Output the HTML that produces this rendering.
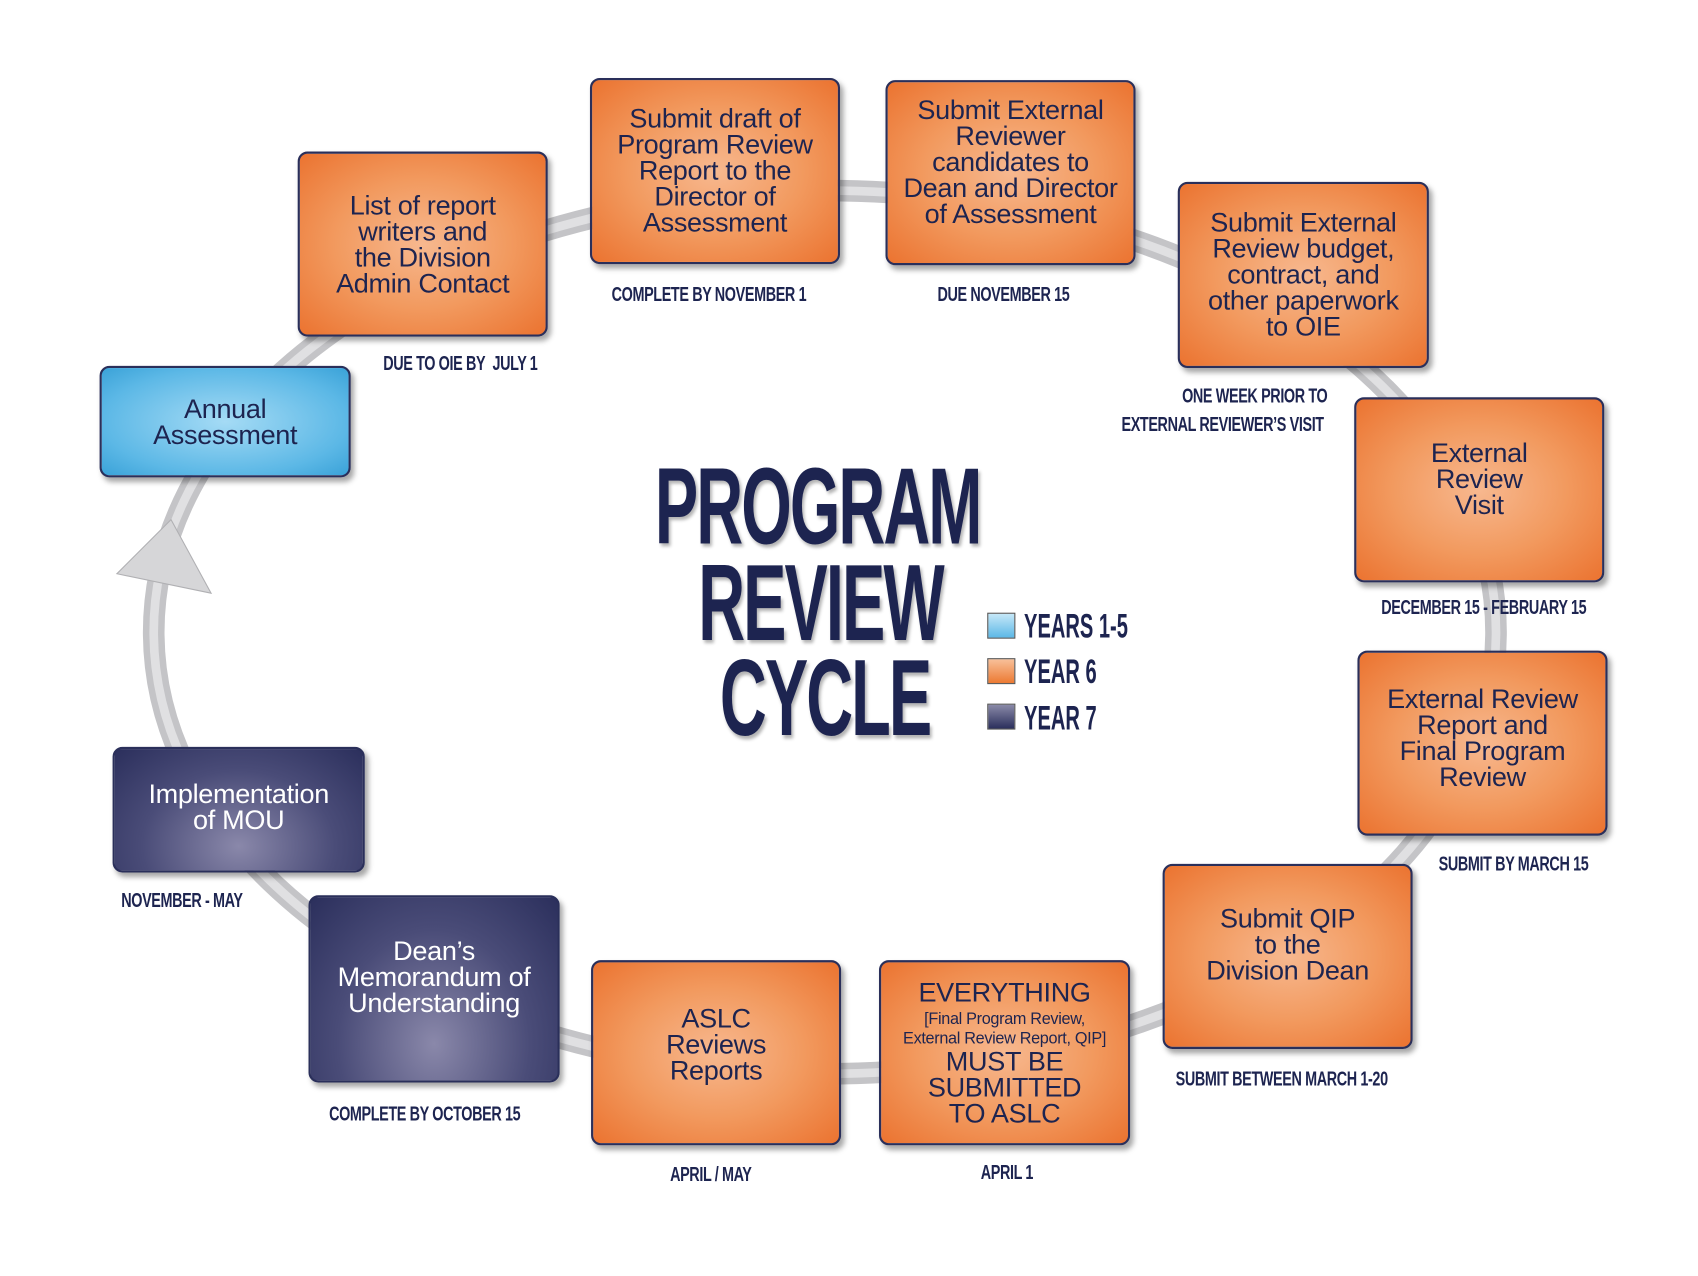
<!DOCTYPE html>
<html><head><style>
body{margin:0;background:#fff;width:1698px;height:1276px;overflow:hidden}
#w{position:absolute;left:0;top:0;width:1556px;height:1169px;transform:scale(1.0825);transform-origin:0 0;font-family:"Liberation Sans",sans-serif}
.b{position:absolute;border:2px solid #2a2f5a;border-radius:9px;box-shadow:3px 4px 5px rgba(0,0,0,.35);display:flex;align-items:center;justify-content:center;text-align:center;font-size:25px;line-height:24px;box-sizing:border-box;letter-spacing:-0.3px}
.o{background:radial-gradient(ellipse at 50% 50%,#f7b88f 0%,#f29a5f 50%,#eb7330 100%);color:#1d2450}
.n{background:radial-gradient(ellipse at 50% 80%,#8a88aa 0%,#4a4c78 55%,#2b2f5c 100%);color:#fff}
.l{background:radial-gradient(ellipse at 50% 50%,#a5dbf5 0%,#5cb8e6 70%,#3aa2d8 100%);color:#1d2450}
.t{position:absolute;font-family:"Liberation Sans Narrow","Liberation Sans",sans-serif;font-weight:bold;color:#1d2450;font-size:19px;white-space:nowrap;transform:scaleX(.7);transform-origin:0 0;letter-spacing:-0.5px}
.ti{position:absolute;font-family:"Liberation Sans Narrow","Liberation Sans",sans-serif;font-weight:bold;color:#1d2450;font-size:100px;line-height:90px;text-shadow:3px 3px 4px rgba(0,0,0,.3);white-space:nowrap;letter-spacing:-3px;transform:scaleX(.6);transform-origin:0 0}
.sw{position:absolute;width:24px;height:22px;border:1px solid #555;left:912px}
.lg{position:absolute;font-family:"Liberation Sans Narrow","Liberation Sans",sans-serif;font-weight:bold;color:#1d2450;font-size:32px;white-space:nowrap;transform:scaleX(.58);transform-origin:0 0;left:946px}
</style></head><body><div id="w">
<svg width="1556" height="1169" style="position:absolute;left:0;top:0">
<ellipse cx="762" cy="584" rx="620" ry="408" fill="none" stroke="#c4c4c7" stroke-width="20"/>
<ellipse cx="762" cy="584" rx="620" ry="408" fill="none" stroke="#e0e0e2" stroke-width="8"/>
<polygon points="158,480 108,530 195,548" fill="#d6d6d8" stroke="#b0b0b3" stroke-width="1"/>
</svg>
<div class="b o" style="left:275px;top:140px;width:231px;height:171px">List of report<br>writers and<br>the Division<br>Admin Contact</div>
<div class="b o" style="left:545px;top:72px;width:231px;height:172px">Submit draft of<br>Program Review<br>Report to the<br>Director of<br>Assessment</div>
<div class="b o" style="left:818px;top:74px;width:231px;height:171px;padding-bottom:20px">Submit External<br>Reviewer<br>candidates to<br>Dean and Director<br>of Assessment</div>
<div class="b o" style="left:1088px;top:168px;width:232px;height:172px">Submit External<br>Review budget,<br>contract, and<br>other paperwork<br>to OIE</div>
<div class="b o" style="left:1251px;top:367px;width:231px;height:171px;padding-bottom:20px">External<br>Review<br>Visit</div>
<div class="b o" style="left:1254px;top:601px;width:231px;height:171px;padding-bottom:10px">External Review<br>Report and<br>Final Program<br>Review</div>
<div class="b o" style="left:1074px;top:798px;width:231px;height:171px;padding-bottom:22px">Submit QIP<br>to the<br>Division Dean</div>
<div class="b o" style="left:812px;top:887px;width:232px;height:171px;flex-direction:column">EVERYTHING<span style="font-size:15px;line-height:18px;margin-top:4px">[Final Program Review,<br>External Review Report, QIP]</span>MUST BE<br>SUBMITTED<br>TO ASLC</div>
<div class="b o" style="left:546px;top:887px;width:231px;height:171px;padding-bottom:16px">ASLC<br>Reviews<br>Reports</div>
<div class="b n" style="left:285px;top:827px;width:232px;height:173px;padding-bottom:22px">Dean’s<br>Memorandum of<br>Understanding</div>
<div class="b n" style="left:104px;top:690px;width:233px;height:116px;padding-bottom:4px">Implementation<br>of MOU</div>
<div class="b l" style="left:92px;top:338px;width:232px;height:103px">Annual<br>Assessment</div>
<div class="t" style="left:354px;top:326px">DUE TO OIE BY&nbsp; JULY 1</div>
<div class="t" style="left:565px;top:262px">COMPLETE BY NOVEMBER 1</div>
<div class="t" style="left:866px;top:262px">DUE NOVEMBER 15</div>
<div class="t" style="left:1092px;top:356px">ONE WEEK PRIOR TO</div>
<div class="t" style="left:1036px;top:382px">EXTERNAL REVIEWER’S VISIT</div>
<div class="t" style="left:1276px;top:551px">DECEMBER 15 - FEBRUARY 15</div>
<div class="t" style="left:1329px;top:788px">SUBMIT BY MARCH 15</div>
<div class="t" style="left:1086px;top:987px">SUBMIT BETWEEN MARCH 1-20</div>
<div class="t" style="left:906px;top:1073px">APRIL 1</div>
<div class="t" style="left:619px;top:1075px">APRIL / MAY</div>
<div class="t" style="left:304px;top:1019px">COMPLETE BY OCTOBER 15</div>
<div class="t" style="left:112px;top:822px">NOVEMBER - MAY</div>
<div class="ti" style="left:605px;top:423px">PROGRAM</div>
<div class="ti" style="left:645px;top:512px">REVIEW</div>
<div class="ti" style="left:665px;top:600px">CYCLE</div>
<div class="sw" style="top:566px;background:linear-gradient(#c6e8f8,#5cb8e6)"></div>
<div class="sw" style="top:608px;background:linear-gradient(#f8c09a,#ec7a33)"></div>
<div class="sw" style="top:650px;background:linear-gradient(#8a8aa8,#2b2f5c)"></div>
<div class="lg" style="top:560px">YEARS 1-5</div>
<div class="lg" style="top:602px">YEAR 6</div>
<div class="lg" style="top:645px">YEAR 7</div>
</div></body></html>
